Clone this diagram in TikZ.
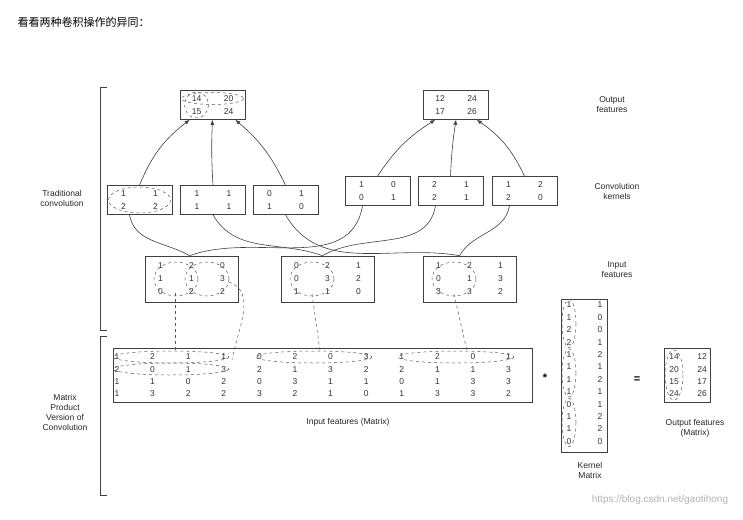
\documentclass[tikz,border=0pt]{standalone}
\usepackage{fontspec}
\setmainfont{Liberation Sans}
\newfontfamily\cjk{Noto Sans CJK SC}
\usetikzlibrary{arrows.meta}
\begin{document}
\begin{tikzpicture}[x=1pt,y=-1pt,
  box/.style={draw=black!75,line width=0.6pt,inner sep=0pt},
  num/.style={font=\fontsize{8.5}{9}\selectfont,text=black!80,inner sep=0pt},
  lab/.style={font=\fontsize{8.5}{10}\selectfont,align=center,text=black!85},
  conn/.style={draw=black!75,line width=0.6pt},
  arr/.style={conn,-{Latex[length=5pt,width=4pt]}},
  dsh/.style={draw=black!65,dashed,line width=0.5pt}]
\useasboundingbox (0,0) rectangle (743,519);
\node[anchor=west,font=\cjk\fontsize{11}{13}\selectfont] (title) at (14,22) {看看两种卷积操作的异同：};
% brackets
\draw[conn] (107,87) -- (100,87) -- (100,330) -- (107,330);
\draw[conn] (107,336) -- (100,336) -- (100,495) -- (107,495);
\node[lab] (tc) at (62,198) {Traditional\\convolution};
\node[lab] (mp) at (65,412) {Matrix\\Product\\Version of\\Convolution};
\node[lab] (of) at (612,105) {Output\\features};
\node[lab] (ck) at (617,191) {Convolution\\kernels};
\node[lab] (if) at (617,270) {Input\\features};
% helper for 2x2 box
\newcommand\twobox[7]{%
 \node[box,minimum width=65pt,minimum height=29pt] (#1) at (#2,#3) {};
 \node[num] at ([xshift=-16pt,yshift=6.5pt]#1.center) {#4};
 \node[num] at ([xshift=16pt,yshift=6.5pt]#1.center) {#5};
 \node[num] at ([xshift=-16pt,yshift=-6.5pt]#1.center) {#6};
 \node[num] at ([xshift=16pt,yshift=-6.5pt]#1.center) {#7};}
\twobox{o1}{212.5}{105}{14}{20}{15}{24}
\twobox{o2}{456}{105}{12}{24}{17}{26}
\twobox{k1}{139.5}{200}{1}{1}{2}{2}
\twobox{k2}{213}{200}{1}{1}{1}{1}
\twobox{k3}{285.5}{200}{0}{1}{1}{0}
\twobox{k4}{377.5}{191}{1}{0}{0}{1}
\twobox{k5}{450.5}{191}{2}{1}{2}{1}
\twobox{k6}{524.5}{191}{1}{2}{2}{0}
% input 3x3
\newcommand\threebox[3]{%
 \node[box,minimum width=93pt,minimum height=46pt] (#1) at (#2,279) {};
 \foreach [count=\i] \v in {#3} {
   \pgfmathtruncatemacro\cc{mod(\i-1,3)}
   \pgfmathtruncatemacro\rr{div(\i-1,3)}
   \node[num] at ([xshift=\cc*31pt-31pt,yshift=13pt-\rr*13pt]#1.center) {\v};}}
\threebox{i1}{191.5}{1,2,0,1,1,3,0,2,2}
\threebox{i2}{327.5}{0,2,1,0,3,2,1,1,0}
\threebox{i3}{469.5}{1,2,1,0,1,3,3,3,2}
% arrows
\draw[arr] (k1.north) to[bend left=15] ([xshift=10pt]o1.south west);
\draw[arr] (k2.north) to[bend left=3] (o1.south);
\draw[arr] (k3.north) to[bend right=12] ([xshift=-10pt]o1.south east);
\draw[arr] (k4.north) to[bend left=12] ([xshift=12pt]o2.south west);
\draw[arr] (k5.north) to[bend left=3] (o2.south);
\draw[arr] (k6.north) to[bend right=15] ([xshift=-12pt]o2.south east);
% kernel to input
\draw[conn] ([xshift=-10pt]k1.south) to[out=-80,in=150] ([xshift=-2pt]i1.north);
\draw[conn] (k2.south) to[out=-60,in=160] ([xshift=-5pt]i2.north);
\draw[conn] (k3.south) to[out=-60,in=170] ([xshift=-10pt]i3.north);
\draw[conn] ([xshift=-15pt]k4.south) to[out=-100,in=20] ([xshift=-2pt]i1.north);
\draw[conn] ([xshift=-15pt]k5.south) to[out=-100,in=30] ([xshift=-5pt]i2.north);
\draw[conn] ([xshift=-15pt]k6.south) to[out=-100,in=60] ([xshift=-10pt]i3.north);
% dashed ellipses
\draw[dsh] (212.5,98.5) ellipse (31 and 6);
\draw[dsh] (196.5,105) ellipse (12 and 13);
\draw[dsh] (139.5,200) ellipse (31 and 13);
\draw[dsh] (176,279) ellipse (22 and 17);
\draw[dsh] (207,279) ellipse (22 and 17);
\draw[dsh] (312,279) ellipse (22 and 17);
\draw[dsh] (454,279) ellipse (22 and 17);
% input matrix
\node[box,minimum width=419pt,minimum height=54pt] (M) at (322.5,375) {};
\foreach [count=\i] \v in {1,2,1,1,0,2,0,3,1,2,0,1, 2,0,1,3,2,1,3,2,2,1,1,3, 1,1,0,2,0,3,1,1,0,1,3,3, 1,3,2,2,3,2,1,0,1,3,3,2} {
  \pgfmathtruncatemacro\cc{mod(\i-1,12)}
  \pgfmathtruncatemacro\rr{div(\i-1,12)}
  \node[num] at ({117+\cc*35.6},{357+\rr*12.3}) {\v};}
\draw[dsh] (171,357) ellipse (58 and 6);
\draw[dsh] (171,369) ellipse (58 and 6);
\draw[dsh] (314,357) ellipse (58 and 6);
\draw[dsh] (456,357) ellipse (58 and 6);
\node[lab] (ifm) at (348,422) {Input features (Matrix)};
% connecting dashed
\draw[dsh] (175,293) -- (175,351);
\draw[dsh] (229,282) to[out=-20,in=80] (232,360);
\draw[dsh] (312,294) -- (320,351);
\draw[dsh] (454,294) -- (467,351);
% kernel matrix
\node[font=\fontsize{11}{12}\selectfont\bfseries] (star) at (545,378) {*};
\node[box,minimum width=46pt,minimum height=153pt] (K) at (584,375.5) {};
\foreach [count=\i] \ka/\kb in {1/1,1/0,2/0,2/1,1/2,1/1,1/2,1/1,0/1,1/2,1/2,0/0} {
  \node[num] at (569,{305+(\i-1)*12.4}) {\ka};
  \node[num] at (600,{305+(\i-1)*12.4}) {\kb};}
\draw[dsh] (569,323.5) ellipse (7 and 24);
\draw[dsh] (569,373) ellipse (7 and 24);
\draw[dsh] (569,422.5) ellipse (7 and 24);
\node[lab] (km) at (590,470) {Kernel\\Matrix};
\node[font=\fontsize{11}{12}\selectfont\bfseries] (eq) at (637,380) {=};
\node[box,minimum width=46pt,minimum height=54pt] (O) at (687,375) {};
\foreach [count=\i] \ka/\kb in {14/12,20/24,15/17,24/26} {
  \node[num] at (674,{357+(\i-1)*12.3}) {\ka};
  \node[num] at (702,{357+(\i-1)*12.3}) {\kb};}
\draw[dsh] (674,375) ellipse (9 and 25);
\node[lab] (ofm) at (695,428) {Output features\\(Matrix)};
\node[font=\fontsize{10}{12}\selectfont,text=black!30] (wm) at (660,500) {https://blog.csdn.net/gaotihong};
\end{tikzpicture}
\end{document}
